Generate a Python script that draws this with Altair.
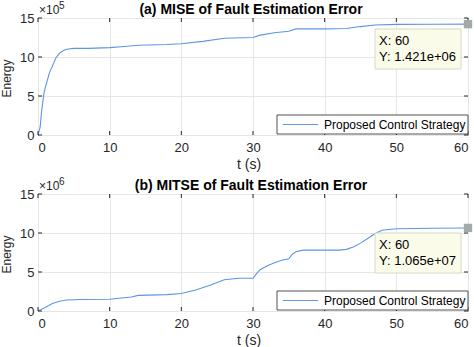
import altair as alt
import pandas as pd

# (a) MISE, units of 1e5
t_a = [0, 0.3, 0.5, 0.8, 1.0, 1.3, 1.6, 2.0, 2.5, 3.0, 3.5, 4.0, 5.0, 7.0, 10.0, 12.0, 14.0,
       18.0, 20.0, 23.0, 26.0, 30.0, 31.0, 33.0, 35.0, 36.0, 40.0, 43.0, 45.0, 47.0, 50.0, 55.0, 60.0]
mise = [0, 1.0, 3.0, 5.2, 6.0, 7.0, 8.0, 8.8, 9.9, 10.5, 10.8, 11.0, 11.1, 11.1, 11.2, 11.35, 11.5,
        11.6, 11.7, 12.0, 12.4, 12.5, 12.8, 13.1, 13.3, 13.6, 13.6, 13.65, 13.9, 14.1, 14.18, 14.2, 14.21]

# (b) MITSE, units of 1e6
t_b = [0, 1, 2, 3, 4, 6, 10, 12, 13, 14, 18, 20, 22, 24, 26, 28, 30, 30.5, 31, 32, 33, 34, 35,
       35.5, 36, 37, 42, 43, 44, 45, 46, 47, 48, 50, 55, 60]
mitse = [0, 0.45, 0.95, 1.25, 1.42, 1.48, 1.5, 1.7, 1.8, 2.0, 2.1, 2.25, 2.7, 3.3, 4.0, 4.2, 4.2,
         4.8, 5.3, 5.8, 6.2, 6.5, 6.7, 7.3, 7.6, 7.8, 7.8, 7.9, 8.2, 8.7, 9.3, 9.9, 10.35, 10.55, 10.6, 10.65]

titles = ["(a) MISE of Fault Estimation Error", "(b) MITSE of Fault Estimation Error"]
exponents = ["5", "6"]
tip_y = ["Y: 1.421e+06", "Y: 1.065e+07"]
x_ticks = [0, 10, 20, 30, 40, 50, 60]
y_ticks = [0, 5, 10, 15]
legend_label = "Proposed Control Strategy"
x_title = "t (s)"
y_title = "Energy"

W, H = 430, 117
FONT = "Liberation Sans"
TXT = "#262626"
LINE = "#5b95e6"

XS = alt.Scale(domain=[0, 60], nice=False)
YS = alt.Scale(domain=[0, 15], nice=False)
X_AX = alt.Axis(values=x_ticks, format="d", labelPadding=6, labelOverlap=False, grid=True)
Y_AX = alt.Axis(values=y_ticks, format="d", labelPadding=4, labelOverlap=False, grid=True)


def X(field):
    return alt.X(field + ":Q", scale=XS, title=None, axis=X_AX)


def Y(field):
    return alt.Y(field + ":Q", scale=YS, title=None, axis=Y_AX)


def txt(s, x, y, size, align="left", baseline="alphabetic", weight="normal", color="black", angle=0):
    one = pd.DataFrame({"a": [0]})
    return alt.Chart(one).mark_text(font=FONT, fontSize=size, color=color, align=align,
                                    baseline=baseline, fontWeight=weight, angle=angle).encode(
        x=alt.value(x), y=alt.value(y), text=alt.value(s))


def panel(t, v, title, expo, ytip, tip_top):
    df = pd.DataFrame({"t": t, "v": v})
    line = alt.Chart(df).mark_line(color=LINE, strokeWidth=1.1, clip=True).encode(
        x=X("t"), y=Y("v"))
    # inward tick marks (MATLAB style)
    tx = pd.DataFrame({"t": x_ticks})
    ty = pd.DataFrame({"v": y_ticks})
    tk_b = alt.Chart(tx).mark_rule(color=TXT, strokeWidth=1).encode(
        x=X("t"), y=alt.value(H), y2=alt.value(H - 4))
    tk_t = alt.Chart(tx).mark_rule(color=TXT, strokeWidth=1).encode(
        x=X("t"), y=alt.value(0), y2=alt.value(4))
    tk_l = alt.Chart(ty).mark_rule(color=TXT, strokeWidth=1).encode(
        y=Y("v"), x=alt.value(0), x2=alt.value(4))
    tk_r = alt.Chart(ty).mark_rule(color=TXT, strokeWidth=1).encode(
        y=Y("v"), x=alt.value(W), x2=alt.value(W - 4))

    one = pd.DataFrame({"a": [0]})
    # legend box
    leg_box = alt.Chart(one).mark_rect(fill="white", stroke=TXT, strokeWidth=0.8).encode(
        x=alt.value(239), x2=alt.value(W), y=alt.value(97), y2=alt.value(H - 1))
    leg_line = alt.Chart(one).mark_rule(color=LINE, strokeWidth=1.1).encode(
        x=alt.value(245), x2=alt.value(280), y=alt.value(106.5))
    leg_text = txt(legend_label, 286, 107, 12, baseline="middle")

    # data tip
    tip_box = alt.Chart(one).mark_rect(fill="#fbfbea", stroke="#d8d8c8", strokeWidth=1).encode(
        x=alt.value(337), x2=alt.value(423), y=alt.value(tip_top), y2=alt.value(tip_top + 40))
    tip_x = txt("X: 60", 341, tip_top + 12, 13, baseline="middle")
    tip_yv = txt(ytip, 341, tip_top + 28, 13, baseline="middle")
    last = pd.DataFrame({"t": [t[-1]], "v": [v[-1]]})
    marker = alt.Chart(last).mark_square(size=70, color="#a4aaa8", opacity=1).encode(
        x=X("t"), y=Y("v"))

    layers = [
        line, tk_b, tk_t, tk_l, tk_r,
        txt("\u00d710", 1, -4, 12, color=TXT),
        txt(expo, 21, -9, 10, color=TXT),
        txt(title, W / 2 - 2, -4, 14, align="center", weight="bold"),
        txt(x_title, W / 2 - 4, H + 34, 14, align="center", color=TXT),
        txt(y_title, -31, H / 2 + 2, 12, align="center", baseline="middle", color=TXT, angle=270),
        leg_box, leg_line, leg_text, tip_box, tip_x, tip_yv, marker,
    ]
    return alt.layer(*layers).properties(width=W, height=H)


top = panel(t_a, mise, titles[0], exponents[0], tip_y[0], 11)
bot = panel(t_b, mitse, titles[1], exponents[1], tip_y[1], 39)

chart = alt.vconcat(top, bot, spacing=59, bounds="flush").properties(
    padding={"left": 0, "top": 0, "right": 0, "bottom": 0},
    background="white",
).configure_view(stroke=TXT, strokeWidth=1).configure_axis(
    labelFont=FONT, labelFontSize=13, labelColor=TXT,
    gridColor="#e6e6e6", gridWidth=1, domain=False, ticks=False,
)

chart.save("out.html", embed_options={"renderer": "svg", "actions": False})
